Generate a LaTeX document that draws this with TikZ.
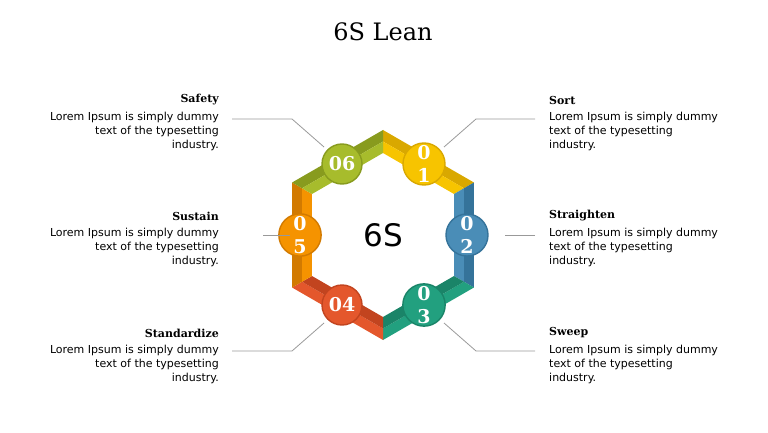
\documentclass[tikz,border=0pt]{standalone}
\usetikzlibrary{calc}
\usepackage{fontspec}
\setmainfont{DejaVu Serif}
\setsansfont{DejaVu Sans}
\begin{document}
\begin{tikzpicture}[x=1pt,y=1pt,
  head/.style={font=\fontsize{11}{13}\selectfont\bfseries},
  body/.style={font=\sffamily\fontsize{11}{13.8}\selectfont,inner sep=0pt},
  num/.style={circle,minimum size=40pt,inner sep=0pt,line width=1.4pt,text=white,font=\fontsize{19}{23}\selectfont\bfseries,align=center},
  conn/.style={draw=gray!80,line width=0.8pt}]
\useasboundingbox (0,0) rectangle (768,-433);
\definecolor{yl}{HTML}{F7C400}\definecolor{yd}{HTML}{D9A800}
\definecolor{bl}{HTML}{4A8DB7}\definecolor{bd}{HTML}{35739A}
\definecolor{tl}{HTML}{22A07F}\definecolor{td}{HTML}{1A8468}
\definecolor{rl}{HTML}{E4572C}\definecolor{rd}{HTML}{C2441F}
\definecolor{ol}{HTML}{F59300}\definecolor{od}{HTML}{D27A00}
\definecolor{gl}{HTML}{A7BC2C}\definecolor{gd}{HTML}{889B1E}
\coordinate (c) at (383,-235);
\node (title) at (383,-32) {\fontsize{24}{26}\selectfont 6S Lean};
\foreach \a/\b/\co/\ci in {90/30/yd/yl, 30/-30/bd/bl, -30/-90/tl/td, -90/-150/rl/rd, -150/-210/od/ol, 150/90/gd/gl}{
  \fill[\co] ($(c)+(\a:105)$) -- ($(c)+(\b:105)$) -- ($(c)+(\b:93.5)$) -- ($(c)+(\a:93.5)$) -- cycle;
  \fill[\ci] ($(c)+(\a:93.5)$) -- ($(c)+(\b:93.5)$) -- ($(c)+(\b:82)$) -- ($(c)+(\a:82)$) -- cycle;
}
\node[font=\sffamily\fontsize{31}{33}\selectfont] (ctr) at (c) {6S};
\node[num,fill=yl,draw=yd,text width=20pt] (n1) at (424,-164) {0 1};
\node[num,fill=bl,draw=bd,text width=20pt] (n2) at (467,-235) {0 2};
\node[num,fill=tl,draw=td,text width=20pt] (n3) at (424,-305) {0 3};
\node[num,fill=rl,draw=rd] (n4) at (342,-305) {04};
\node[num,fill=ol,draw=od,text width=20pt] (n5) at (300,-235) {0 5};
\node[num,fill=gl,draw=gd] (n6) at (342,-164) {06};
\foreach \nm/\x/\y/\t/\an in {r1/549/-100/Sort/west, r2/549/-216/Straighten/west, r3/549/-333/Sweep/west, l1/219/-100/Safety/east, l2/219/-216/Sustain/east, l3/219/-333/Standardize/east}{
  \node[head,anchor=\an,inner sep=0pt] (h\nm) at (\x,\y) {\t};
}
\foreach \nm/\x/\y/\an/\al in {r1/549/-112/west/left, r2/549/-228/west/left, r3/549/-345/west/left, l1/219/-112/east/right, l2/219/-228/east/right, l3/219/-345/east/right}{
  \node[body,anchor=north \an,align=\al] (t\nm) at (\x,\y) {Lorem Ipsum is simply dummy\\ text of the typesetting\\ industry.};
}
\coordinate (a1) at (535,-119); \coordinate (k1) at (476,-119);
\coordinate (a2) at (535,-235);
\coordinate (a3) at (535,-351); \coordinate (k3) at (476,-351);
\coordinate (a4) at (232,-119); \coordinate (k4) at (292,-119);
\coordinate (a5) at (263,-235);
\coordinate (a6) at (232,-351); \coordinate (k6) at (292,-351);
\draw[conn] (a1) -- (k1) -- (444,-147);
\draw[conn] (a2) -- (505,-235);
\draw[conn] (a3) -- (k3) -- (444,-323);
\draw[conn] (a4) -- (k4) -- (324,-147);
\draw[conn] (a5) -- (290,-235);
\draw[conn] (a6) -- (k6) -- (324,-323);
\end{tikzpicture}
\end{document}
